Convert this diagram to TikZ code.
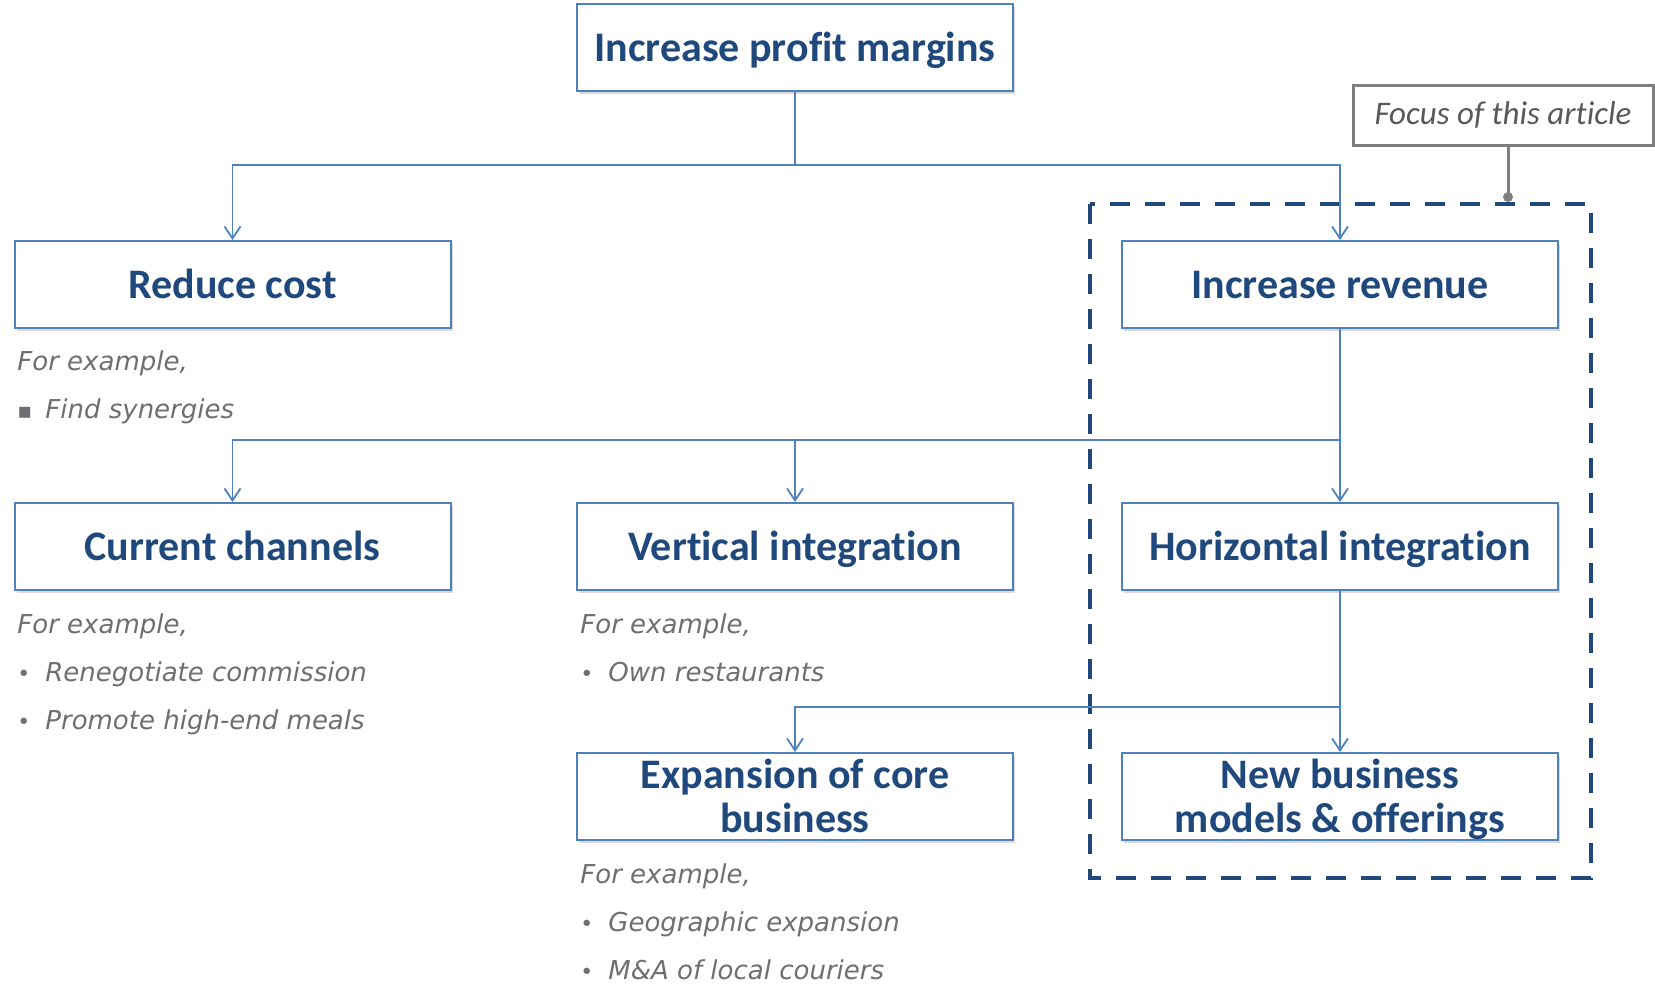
\documentclass[tikz,border=0pt]{standalone}
\usepackage{fontspec}
\setmainfont{Carlito}[Ligatures={NoCommon}]
\newfontfamily\exfont{DejaVu Sans}
\usetikzlibrary{arrows.meta,shadows}
\definecolor{boxblue}{HTML}{4F81BD}
\definecolor{textblue}{HTML}{1F497D}
\definecolor{dashblue}{HTML}{1F497D}
\definecolor{exgray}{HTML}{6E6E73}
\definecolor{focusgray}{HTML}{7F7F7F}
\definecolor{focustext}{HTML}{595959}
\begin{document}
\begin{tikzpicture}[x=0.5pt,y=-0.5pt,
  box/.style={draw=boxblue, line width=1pt, fill=white, minimum width=218pt, minimum height=43.5pt, inner sep=0pt, align=center, text=textblue, font=\fontsize{21}{22}\selectfont\bfseries, text height=15pt, text depth=1.5pt, drop shadow={opacity=0.3, shadow xshift=1pt, shadow yshift=-1.5pt}},
  box2/.style={box, text height=37.5pt, text depth=1.5pt},
  conn/.style={draw=boxblue, line width=0.9pt},
  arr/.style={conn, -{Straight Barb[length=6pt,width=8pt]}},
  ex/.style={anchor=base west, inner sep=0pt, text=exgray, font=\exfont\fontsize{13}{15}\selectfont\itshape},
  bul/.style={anchor=base west, inner sep=0pt, text=exgray, font=\exfont\fontsize{11}{13}\selectfont},
  focusbox/.style={draw=focusgray, line width=1.5pt, fill=white, minimum width=150pt, minimum height=30pt, inner sep=0pt, text=focustext, font=\fontsize{16.5}{18}\selectfont\itshape}
]
\useasboundingbox (0,0) rectangle (1655,1002);

% focus region
\draw[dashblue, line width=2pt, dash pattern=on 10pt off 7.5pt] (1090,204) rectangle (1591,878);

% boxes
\node[box] (top) at (795,47.5) {Increase profit margins};
\node[box] (reduce) at (232.5,284.5) {Reduce cost};
\node[box] (increv) at (1340,284.5) {Increase revenue};
\node[box] (cc) at (232.5,546.5) {Current channels};
\node[box] (vi) at (795,546.5) {Vertical integration};
\node[box] (hi) at (1340,546.5) {Horizontal integration};
\node[box2] (exp) at (795,796.5) {Expansion of core\\business};
\node[box2] (nb) at (1340,796.5) {New business\\models \& offerings};

% focus label
\node[focusbox] (focus) at (1503,115) {Focus of this article};
\coordinate (fdot) at (1508,197);
\draw[focusgray, line width=1.5pt] (fdot |- focus.south) -- (fdot);
\fill[focusgray] (fdot) circle (2.5pt);

% connectors
\coordinate (j1) at (795,165);
\coordinate (j2) at (1340,440);
\coordinate (j3) at (1340,707);
\draw[conn] (top.south) -- (j1);
\draw[arr] (j1) -| (reduce.north);
\draw[arr] (j1) -| (increv.north);
\draw[conn] (increv.south) -- (j2);
\draw[arr] (j2) -| (cc.north);
\draw[arr] (j2) -| (vi.north);
\draw[arr] (j2) -- (hi.north);
\draw[conn] (hi.south) -- (j3);
\draw[arr] (j3) -| (exp.north);
\draw[arr] (j3) -- (nb.north);

% examples
\node[ex] (r0) at (17,370) {For example,};
\node[bul] (r1b) at (17,418) {▪};
\node[ex] (r1) at (45,418) {Find synergies};

\node[ex] (c0) at (17,633) {For example,};
\node[bul] (c1b) at (17,681) {•};
\node[ex] (c1) at (45,681) {Renegotiate commission};
\node[bul] (c2b) at (17,729) {•};
\node[ex] (c2) at (45,729) {Promote high-end meals};

\node[ex] (v0) at (580,633) {For example,};
\node[bul] (v1b) at (580,681) {•};
\node[ex] (v1) at (608,681) {Own restaurants};

\node[ex] (e0) at (580,883) {For example,};
\node[bul] (e1b) at (580,931) {•};
\node[ex] (e1) at (608,931) {Geographic expansion};
\node[bul] (e2b) at (580,979) {•};
\node[ex] (e2) at (608,979) {M\&A of local couriers};
\end{tikzpicture}
\end{document}
